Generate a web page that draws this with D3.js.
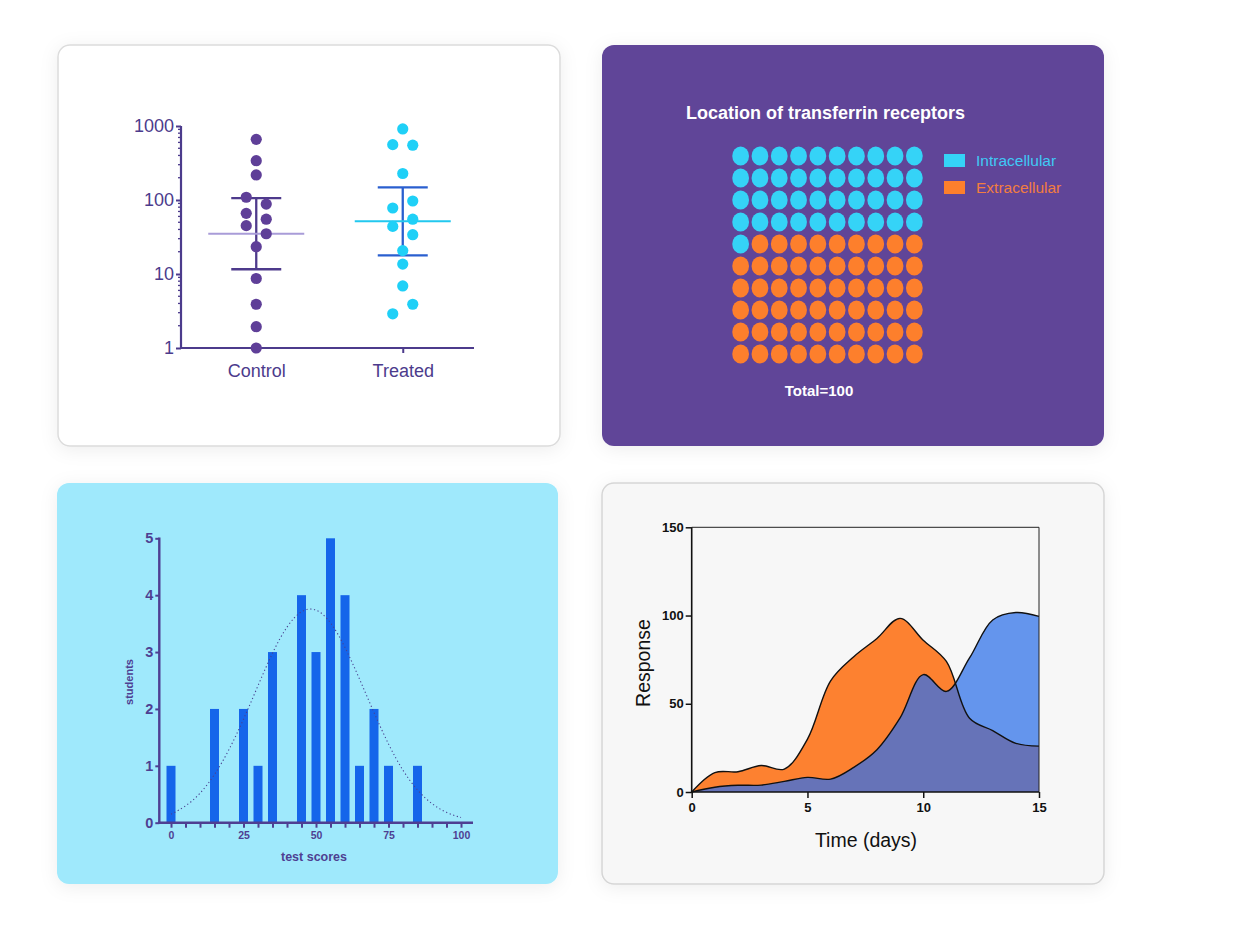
<!DOCTYPE html>
<html><head><meta charset="utf-8">
<script src="https://cdn.jsdelivr.net/npm/d3@7"></script>
<style>
body{margin:0;background:#fff;}
svg{display:block;font-family:"Liberation Sans",Arial,Helvetica,sans-serif;}
</style>
</head><body>
<svg id="c" width="1248" height="927"></svg>
<script>
// ---------------- DATA ----------------
// Panel 1: scatter (log scale)
const scatterGroups = ["Control", "Treated"];
const controlValues = [1, 1.94, 3.9, 8.7, 23.4, 35, 45, 55, 66, 88, 109, 218, 340, 660];
const treatedValues = [3.9, 2.9, 6.9, 13.6, 20.7, 34, 44, 55, 78, 97, 228, 550, 560, 912];
const scatterMean = [35, 51.5];
const scatterLow = [11.6, 17.9];
const scatterHigh = [106, 148];
const scatterYTicks = [1, 10, 100, 1000];

// Panel 2: waffle
const waffleTitle = "Location of transferrin receptors";
const waffleCategories = ["Intracellular", "Extracellular"];
const waffleCounts = [41, 59];
const waffleTotalLabel = "Total=100";

// Panel 3: histogram
const histBins = [0, 15, 25, 30, 35, 45, 50, 55, 60, 65, 70, 75, 85];
const histCounts = [1, 2, 2, 1, 3, 4, 3, 5, 4, 1, 2, 1, 1];
const fitX = [0, 5, 10, 15, 20, 25, 30, 35, 40, 45, 50, 55, 60, 65, 70, 75, 80, 85, 90, 95, 100];
const fitY = [0.15, 0.28, 0.50, 0.83, 1.27, 1.81, 2.41, 3.00, 3.47, 3.75, 3.78, 3.55, 3.10, 2.53, 1.93, 1.37, 0.90, 0.56, 0.32, 0.17, 0.09];
const histXTicks = [0, 25, 50, 75, 100];
const histXMinorTicks = [0, 5, 10, 15, 20, 25, 30, 35, 40, 45, 50, 55, 60, 65, 70, 75, 80, 85, 90, 95, 100];
const histYTicks = [0, 1, 2, 3, 4, 5];

// Panel 4: area chart
const days = [0, 1, 2, 3, 4, 5, 6, 7, 8, 9, 10, 11, 12, 13, 14, 15];
const seriesA = [0, 11, 11.5, 15, 13, 30, 63, 76.7, 87, 98.4, 86, 74, 41.8, 34.8, 27.6, 26];
const seriesB = [0, 2.7, 3.8, 3.9, 6, 8.3, 7.3, 14, 24, 42, 66.5, 57, 76, 97.5, 101.7, 99.5];
const areaXTicks = [0, 5, 10, 15];
const areaYTicks = [0, 50, 100, 150];

// ---------------- DRAW ----------------
const svg = d3.select("#c");
const defs = svg.append("defs");
const sh = defs.append("filter").attr("id", "sh").attr("x", "-20%").attr("y", "-20%").attr("width", "140%").attr("height", "140%");
sh.append("feDropShadow").attr("dx", 0).attr("dy", 3).attr("stdDeviation", 9)
  .attr("flood-color", "#000").attr("flood-opacity", 0.07);

function panel(x, y, w, h, fill, stroke) {
  svg.append("rect").attr("x", x).attr("y", y).attr("width", w).attr("height", h)
    .attr("rx", 12).attr("fill", fill).attr("filter", "url(#sh)")
    .attr("stroke", stroke || "none").attr("stroke-width", 1.5);
}
panel(58, 45, 502, 401, "#ffffff", "#dcdcdc");
panel(602, 45, 502, 401, "#614598", null);
panel(57, 483, 501, 401, "#9fe9fc", null);
panel(602, 483, 502, 401, "#f7f7f7", "#d6d6d6");

// ===== Panel 1 =====
(function () {
  const g = svg.append("g");
  const axisColor = "#4c3b8c";
  const x = d3.scalePoint().domain(scatterGroups).range([183, 476]).padding(0.5);
  const y = d3.scaleLog().domain([1, 1000]).range([348, 126]);
  const ax0 = 181, ax1 = 474;

  // minor ticks
  const minor = [];
  [1, 10, 100].forEach(d => { for (let k = 2; k <= 9; k++) minor.push(d * k); });
  g.selectAll(".mn").data(minor).enter().append("line")
    .attr("x1", ax0 - 3).attr("x2", ax0).attr("y1", d => y(d)).attr("y2", d => y(d))
    .attr("stroke", axisColor).attr("stroke-width", 1.3);

  const yAx = g.append("g").attr("transform", `translate(${ax0},0)`)
    .call(d3.axisLeft(y).tickValues(scatterYTicks).tickFormat(d3.format("d")).tickSize(5).tickPadding(2));
  yAx.select(".domain").remove();
  yAx.selectAll("line").attr("stroke", axisColor).attr("stroke-width", 2);
  yAx.selectAll("text").attr("fill", axisColor).style("font-size", "18px").style("font-family", "Liberation Sans, Arial");

  const xAx = g.append("g").attr("transform", "translate(0,348)")
    .call(d3.axisBottom(x).tickSize(5).tickPadding(11));
  xAx.select(".domain").remove();
  xAx.selectAll("line").attr("stroke", axisColor).attr("stroke-width", 2);
  xAx.selectAll("text").attr("fill", axisColor).style("font-size", "18px").style("font-family", "Liberation Sans, Arial");

  g.append("line").attr("x1", ax0).attr("x2", ax0).attr("y1", y(1000)).attr("y2", y(1) + 1)
    .attr("stroke", axisColor).attr("stroke-width", 2.2);
  g.append("line").attr("x1", ax0 - 1).attr("x2", ax1).attr("y1", y(1)).attr("y2", y(1))
    .attr("stroke", axisColor).attr("stroke-width", 2.2);

  const groups = [
    { name: "Control", vals: controlValues, dot: "#5f3f98", mean: "#a99cd8", err: "#4e3a8c" },
    { name: "Treated", vals: treatedValues, dot: "#1fd0f7", mean: "#22c8ef", err: "#2a5fcf" }
  ];
  groups.forEach((G, gi) => {
    const cx = x(G.name);
    // error bar
    const eg = g.append("g").attr("stroke", G.err).attr("stroke-width", 2.3);
    eg.append("line").attr("x1", cx).attr("x2", cx).attr("y1", y(scatterHigh[gi])).attr("y2", y(scatterLow[gi]));
    eg.append("line").attr("x1", cx - 25).attr("x2", cx + 25).attr("y1", y(scatterHigh[gi])).attr("y2", y(scatterHigh[gi]));
    eg.append("line").attr("x1", cx - 25).attr("x2", cx + 25).attr("y1", y(scatterLow[gi])).attr("y2", y(scatterLow[gi]));
    // mean line
    g.append("line").attr("x1", cx - 48).attr("x2", cx + 48).attr("y1", y(scatterMean[gi])).attr("y2", y(scatterMean[gi]))
      .attr("stroke", G.mean).attr("stroke-width", 2);

    // jitter: cluster consecutive values closer than 12px, alternate sides in array order
    const idx = G.vals.map((v, i) => i).sort((a, b) => G.vals[a] - G.vals[b]);
    const side = new Array(G.vals.length).fill(0);
    let cluster = [idx[0]];
    const flush = () => {
      if (cluster.length > 1) {
        cluster.slice().sort((a, b) => a - b).forEach((i, k) => side[i] = (k % 2 === 0) ? 1 : -1);
      }
    };
    for (let j = 1; j < idx.length; j++) {
      const prev = idx[j - 1], cur = idx[j];
      if (Math.abs(y(G.vals[prev]) - y(G.vals[cur])) < 12) cluster.push(cur);
      else { flush(); cluster = [cur]; }
    }
    flush();
    g.selectAll(".d" + gi).data(G.vals).enter().append("circle")
      .attr("cx", (d, i) => cx + side[i] * 10).attr("cy", d => y(d)).attr("r", 5.6)
      .attr("fill", G.dot);
  });
})();

// ===== Panel 2: waffle =====
(function () {
  const g = svg.append("g");
  g.append("text").attr("x", 686).attr("y", 119).text(waffleTitle)
    .attr("fill", "#fff").style("font-weight", "bold").style("font-size", "18px");
  const cols = d3.scaleBand().domain(d3.range(10)).range([731, 924]);
  const rows = d3.scaleBand().domain(d3.range(10)).range([145, 365]);
  const color = d3.scaleOrdinal().domain(waffleCategories).range(["#35d3f7", "#fd7f2c"]);
  const cells = [];
  waffleCategories.forEach((c, ci) => { for (let k = 0; k < waffleCounts[ci]; k++) cells.push(c); });
  g.selectAll(".w").data(cells).enter().append("ellipse")
    .attr("cx", (d, i) => cols(i % 10) + cols.bandwidth() / 2)
    .attr("cy", (d, i) => rows(Math.floor(i / 10)) + rows.bandwidth() / 2)
    .attr("rx", 8.4).attr("ry", 9.4).attr("fill", d => color(d));
  const textColor = ["#3fc9f5", "#f27d3f"];
  waffleCategories.forEach((c, ci) => {
    g.append("rect").attr("x", 944).attr("y", 154 + ci * 27).attr("width", 21).attr("height", 13).attr("fill", color(c));
    g.append("text").attr("x", 976).attr("y", 166 + ci * 27).text(c)
      .attr("fill", textColor[ci]).style("font-size", "15.5px");
  });
  g.append("text").attr("x", 819).attr("y", 396).attr("text-anchor", "middle").text(waffleTotalLabel)
    .attr("fill", "#fff").style("font-weight", "bold").style("font-size", "15px");
})();

// ===== Panel 3: histogram =====
(function () {
  const g = svg.append("g");
  const col = "#4e3f92";
  const x = d3.scaleLinear().domain([0, 100]).range([171, 461]);
  const y = d3.scaleLinear().domain([0, 5]).range([822.7, 538.3]);
  const bw = 9;
  g.selectAll(".b").data(histBins).enter().append("rect")
    .attr("x", d => x(d) - bw / 2).attr("width", bw)
    .attr("y", (d, i) => y(histCounts[i])).attr("height", (d, i) => y(0) - y(histCounts[i]))
    .attr("fill", "#1565ea");
  const line = d3.line().x((d, i) => x(fitX[i])).y(d => y(d)).curve(d3.curveBasis);
  g.append("path").attr("d", line(fitY)).attr("fill", "none").attr("stroke", "#4a4190")
    .attr("stroke-width", 1.1).attr("stroke-dasharray", "1.2,2.6");

  const xAx = g.append("g").attr("transform", `translate(0,${y(0)})`)
    .call(d3.axisBottom(x).tickValues(histXMinorTicks).tickSize(5).tickPadding(4)
      .tickFormat(d => histXTicks.includes(d) ? d : ""));
  xAx.select(".domain").remove();
  xAx.selectAll("line").attr("stroke", col).attr("stroke-width", 2);
  xAx.selectAll("text").attr("fill", col).style("font-size", "10.5px").style("font-weight", "bold");

  const yAx = g.append("g").attr("transform", "translate(159.3,0)")
    .call(d3.axisLeft(y).tickValues(histYTicks).tickSize(4).tickPadding(2).tickFormat(d3.format("d")));
  yAx.select(".domain").remove();
  yAx.selectAll("line").attr("stroke", col).attr("stroke-width", 2);
  yAx.selectAll("text").attr("fill", col).style("font-size", "14.5px").style("font-weight", "bold");

  g.append("line").attr("x1", 159.3).attr("x2", 159.3).attr("y1", 537.5).attr("y2", y(0) + 1.2)
    .attr("stroke", col).attr("stroke-width", 2.4);
  g.append("line").attr("x1", 158).attr("x2", 473).attr("y1", y(0)).attr("y2", y(0))
    .attr("stroke", col).attr("stroke-width", 2.4);

  g.append("text").attr("transform", "translate(133,682) rotate(-90)").attr("text-anchor", "middle")
    .text("students").attr("fill", col).style("font-size", "11px").style("font-weight", "bold");
  g.append("text").attr("x", 314).attr("y", 861).attr("text-anchor", "middle")
    .text("test scores").attr("fill", col).style("font-size", "12.5px").style("font-weight", "bold");
})();

// ===== Panel 4: area =====
(function () {
  const g = svg.append("g");
  const x = d3.scaleLinear().domain([0, 15]).range([691.7, 1039]);
  const y = d3.scaleLinear().domain([0, 150]).range([792, 527.3]);
  const curve = d3.curveCatmullRom.alpha(0.5);
  const areaGen = d3.area().x((d, i) => x(days[i])).y0(y(0)).y1(d => y(d)).curve(curve);
  const lineGen = d3.line().x((d, i) => x(days[i])).y(d => y(d)).curve(curve);

  defs.append("clipPath").attr("id", "clipB").append("path").attr("d", areaGen(seriesB));

  g.append("path").attr("d", areaGen(seriesA)).attr("fill", "#fd8130");
  g.append("path").attr("d", areaGen(seriesB)).attr("fill", "#6495ed");
  g.append("path").attr("d", areaGen(seriesA)).attr("fill", "#6673b8").attr("clip-path", "url(#clipB)");
  g.append("path").attr("d", lineGen(seriesA)).attr("fill", "none").attr("stroke", "#111").attr("stroke-width", 1.4);
  g.append("path").attr("d", lineGen(seriesB)).attr("fill", "none").attr("stroke", "#111").attr("stroke-width", 1.4);

  // frame
  g.append("line").attr("x1", x(0)).attr("x2", x(15)).attr("y1", y(150)).attr("y2", y(150)).attr("stroke", "#222").attr("stroke-width", 1);
  g.append("line").attr("x1", x(15)).attr("x2", x(15)).attr("y1", y(150)).attr("y2", y(0)).attr("stroke", "#222").attr("stroke-width", 1);

  const xAx = g.append("g").attr("transform", `translate(0,${y(0)})`)
    .call(d3.axisBottom(x).tickValues(areaXTicks).tickSize(6).tickPadding(5).tickFormat(d3.format("d")));
  xAx.select(".domain").remove();
  xAx.selectAll("line").attr("stroke", "#111").attr("stroke-width", 1.5);
  xAx.selectAll("text").attr("fill", "#111").style("font-size", "13px").style("font-weight", "bold");
  const yAx = g.append("g").attr("transform", `translate(${x(0)},0)`)
    .call(d3.axisLeft(y).tickValues(areaYTicks).tickSize(6).tickPadding(2).tickFormat(d3.format("d")));
  yAx.select(".domain").remove();
  yAx.selectAll("line").attr("stroke", "#111").attr("stroke-width", 1.5);
  yAx.selectAll("text").attr("fill", "#111").style("font-size", "13px").style("font-weight", "bold");

  g.append("line").attr("x1", x(0)).attr("x2", x(0)).attr("y1", y(150)).attr("y2", y(0) + 0.75).attr("stroke", "#111").attr("stroke-width", 1.6);
  g.append("line").attr("x1", x(0) - 0.75).attr("x2", x(15)).attr("y1", y(0)).attr("y2", y(0)).attr("stroke", "#111").attr("stroke-width", 1.6);

  g.append("text").attr("transform", "translate(650,663) rotate(-90)").attr("text-anchor", "middle")
    .text("Response").attr("fill", "#111").style("font-size", "19.5px");
  g.append("text").attr("x", 866).attr("y", 847).attr("text-anchor", "middle")
    .text("Time (days)").attr("fill", "#111").style("font-size", "19.5px");
})();
</script>
</body></html>
